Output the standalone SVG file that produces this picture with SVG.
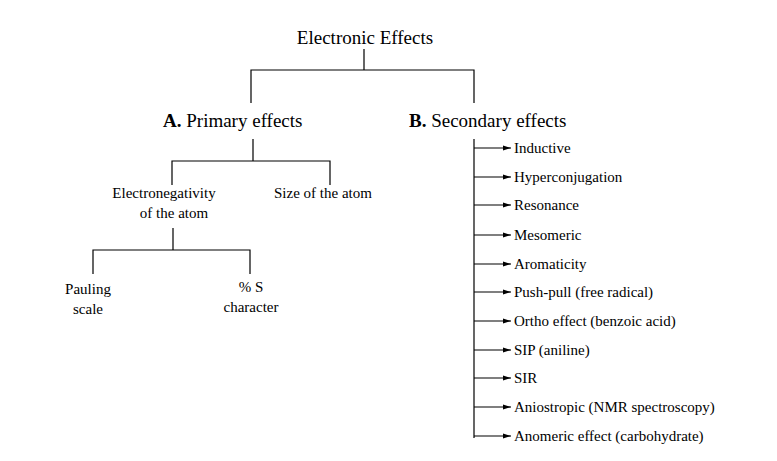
<svg xmlns="http://www.w3.org/2000/svg" width="777" height="461" viewBox="0 0 777 461">
<style>
text{font-family:"Liberation Serif","Times New Roman",serif;fill:#000}
.h{font-size:19px}
.n{font-size:15px}
.c{fill:none;stroke:#000;stroke-width:1.2}
</style>
<defs><marker id="a" markerWidth="8" markerHeight="6" refX="8" refY="3" orient="auto" markerUnits="userSpaceOnUse"><path d="M0,0.5 L8,3 L0,5.5 Z" fill="#000"/></marker></defs>
<rect width="777" height="461" fill="#fff"/>
<g id="connectors" class="c">
<path d="M364,49V70M251,103V70H474V103"/>
<path d="M253,139V161M172,185V161H330V185"/>
<path d="M173,228V250M93,274V250H250V274"/>
<path d="M474,139V438"/>
<g marker-end="url(#a)">
<path d="M474,148H511"/><path d="M474,177H511"/><path d="M474,205H511"/><path d="M474,235H511"/><path d="M474,264H511"/><path d="M474,292H511"/><path d="M474,321H511"/><path d="M474,350H511"/><path d="M474,378H511"/><path d="M474,407H511"/><path d="M474,436H511"/>
</g>
</g>
<g id="root"><text class="h" x="365" y="44" text-anchor="middle">Electronic Effects</text></g>
<g id="primary"><text class="h" x="163" y="127"><tspan font-weight="bold">A.</tspan> Primary effects</text></g>
<g id="secondary"><text class="h" x="409" y="127"><tspan font-weight="bold">B.</tspan> Secondary effects</text></g>
<g id="electroneg"><text class="n" text-anchor="middle"><tspan x="164" y="198">Electronegativity</tspan><tspan x="174" y="218">of the atom</tspan></text></g>
<g id="size"><text class="n" x="274" y="198">Size of the atom</text></g>
<g id="pauling"><text class="n" text-anchor="middle"><tspan x="88" y="294">Pauling</tspan><tspan x="88" y="314">scale</tspan></text></g>
<g id="scharacter"><text class="n" text-anchor="middle"><tspan x="251" y="292">% S</tspan><tspan x="251" y="312">character</tspan></text></g>
<g id="items" class="n">
<g id="i1"><text class="n" x="514" y="153">Inductive</text></g>
<g id="i2"><text class="n" x="514" y="182">Hyperconjugation</text></g>
<g id="i3"><text class="n" x="514" y="210">Resonance</text></g>
<g id="i4"><text class="n" x="514" y="240">Mesomeric</text></g>
<g id="i5"><text class="n" x="514" y="269">Aromaticity</text></g>
<g id="i6"><text class="n" x="514" y="297">Push-pull (free radical)</text></g>
<g id="i7"><text class="n" x="514" y="326">Ortho effect (benzoic acid)</text></g>
<g id="i8"><text class="n" x="514" y="355">SIP (aniline)</text></g>
<g id="i9"><text class="n" x="514" y="383">SIR</text></g>
<g id="i10"><text class="n" x="514" y="412">Aniostropic (NMR spectroscopy)</text></g>
<g id="i11"><text class="n" x="514" y="441">Anomeric effect (carbohydrate)</text></g>
</g>
</svg>
